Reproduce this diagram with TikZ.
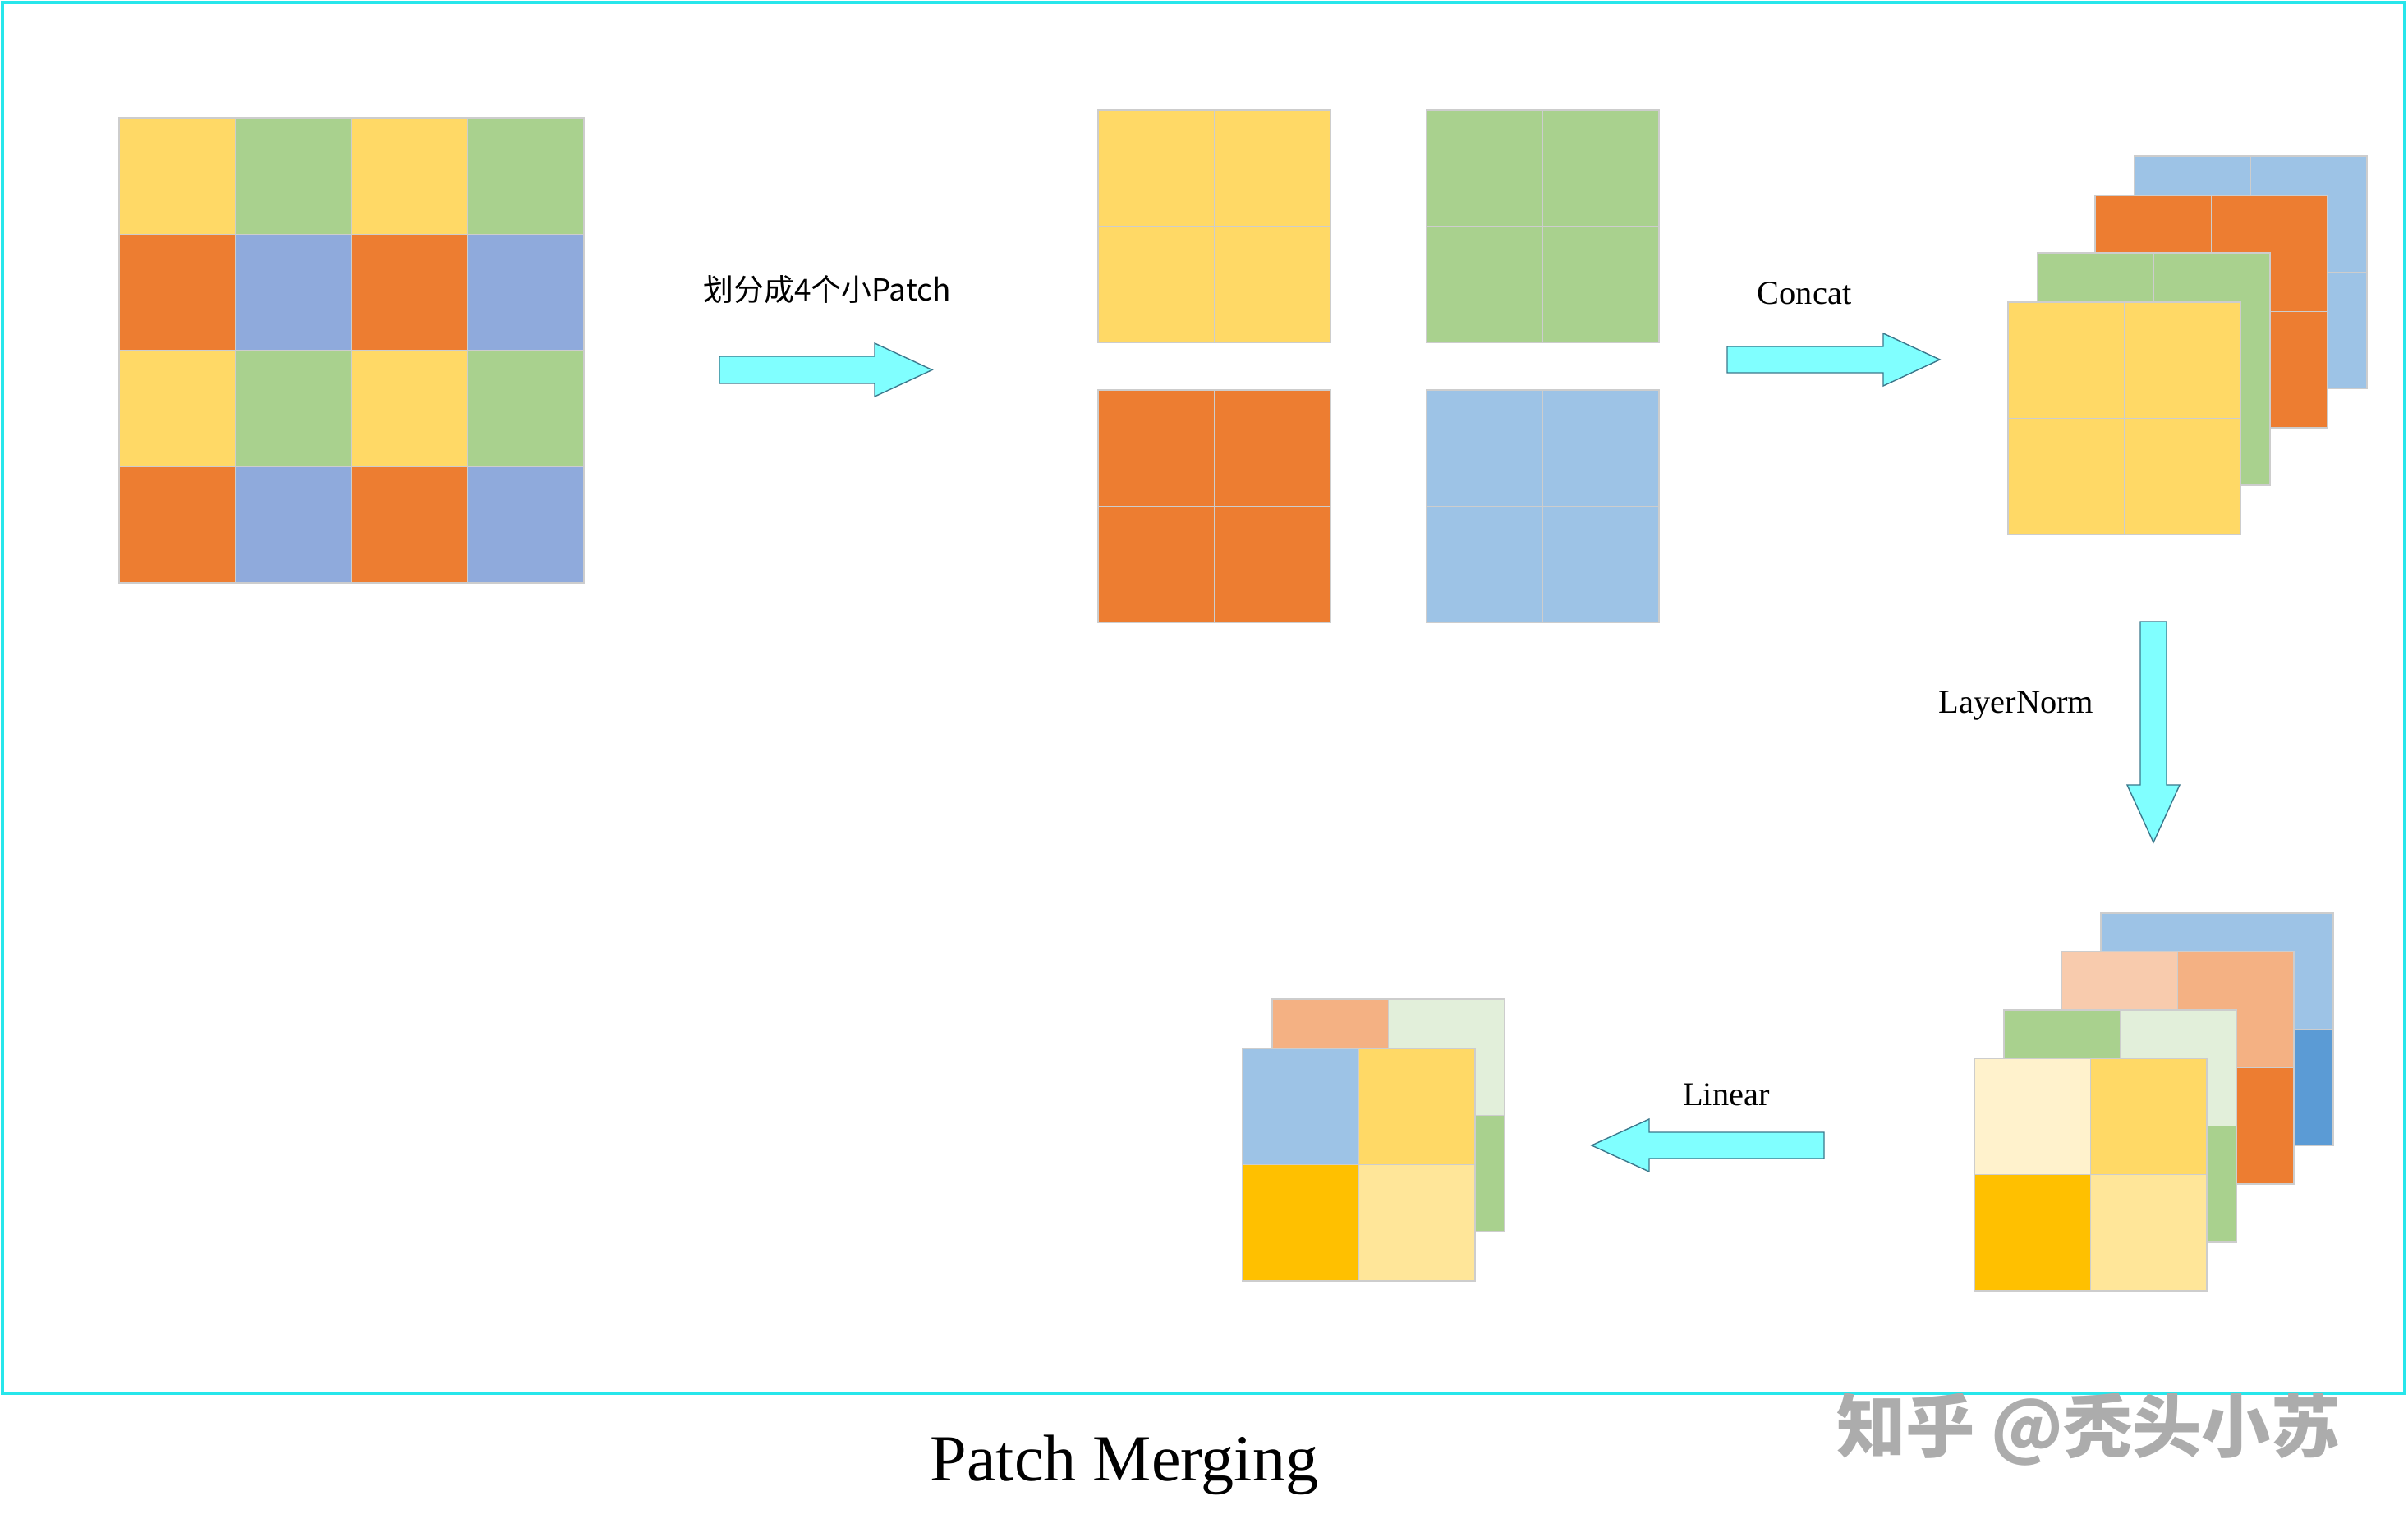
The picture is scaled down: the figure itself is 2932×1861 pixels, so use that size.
\documentclass[tikz,border=0pt]{standalone}
\usepackage{fontspec}
\setmainfont{Liberation Serif}
\newfontfamily\cjkfont{Noto Sans CJK SC}

\definecolor{cyel}{HTML}{FFD966}
\definecolor{cgrn}{HTML}{A9D18E}
\definecolor{corg}{HTML}{ED7D31}
\definecolor{cblu}{HTML}{8FAADC}
\definecolor{clblu}{HTML}{9DC3E6}
\definecolor{cdblu}{HTML}{5B9BD5}
\definecolor{cpeach}{HTML}{F8CBAD}
\definecolor{csalmon}{HTML}{F4B183}
\definecolor{cpale}{HTML}{E2EFDA}
\definecolor{ccream}{HTML}{FFF2CC}
\definecolor{cgold}{HTML}{FFC000}
\definecolor{clight}{HTML}{FFE699}
\definecolor{cellline}{RGB}{205,205,205}
\definecolor{arrowcyan}{HTML}{80FFFF}
\definecolor{arrowline}{RGB}{60,120,140}
\definecolor{framecyan}{RGB}{40,230,235}
\definecolor{markgrey}{RGB}{172,172,172}

\tikzset{
  cell/.style={draw=cellline, line width=0.3pt},
  blockarrow/.style={fill=arrowcyan, draw=arrowline, line width=0.4pt},
  label/.style={font=\fontsize{11.5}{14}\selectfont, anchor=base, inner sep=0pt},
}

% 2x2 patch: top-left corner, then colours TL, TR, BL, BR
\newcommand{\twobytwo}[6]{%
  \draw[cell, fill=#3] (#1,#2) rectangle ++(141.5,141.5);
  \draw[cell, fill=#4] (#1+141.5,#2) rectangle ++(141.5,141.5);
  \draw[cell, fill=#5] (#1,#2+141.5) rectangle ++(141.5,141.5);
  \draw[cell, fill=#6] (#1+141.5,#2+141.5) rectangle ++(141.5,141.5);
}

\begin{document}
\begin{tikzpicture}[x=0.1mm, y=-0.1mm]
   \useasboundingbox (0,0) rectangle (2932,1861);
   \draw[framecyan, line width=1.1pt] (3,3) rectangle (2928,1697);
   % input feature map
   \foreach \r/\ca/\cb in {0/cyel/cgrn, 1/corg/cblu, 2/cyel/cgrn, 3/corg/cblu}
     \foreach \c in {0,2} {
       \draw[cell, fill=\ca] ({145+\c*141.5},{144+\r*141.5}) rectangle ++(141.5,141.5);
       \draw[cell, fill=\cb] ({145+(\c+1)*141.5},{144+\r*141.5}) rectangle ++(141.5,141.5);
     }
   \draw[blockarrow] (876,434) -- (1065,434) -- (1065,418) -- (1135,450.5) -- (1065,483) -- (1065,467) -- (876,467) -- cycle;
   \node (split) [label, font=\cjkfont\fontsize{10.5}{13}\selectfont] at (1007,367) {划分成4个小Patch};
   % four patches
   \twobytwo{1337}{134}{cyel}{cyel}{cyel}{cyel}
   \twobytwo{1737}{134}{cgrn}{cgrn}{cgrn}{cgrn}
   \twobytwo{1337}{475}{corg}{corg}{corg}{corg}
   \twobytwo{1737}{475}{clblu}{clblu}{clblu}{clblu}
   \draw[blockarrow] (2103,422) -- (2293,422) -- (2293,406) -- (2362,438) -- (2293,470) -- (2293,454) -- (2103,454) -- cycle;
   \node (concat) [label] at (2197,371) {Concat};
   % concatenated stack
   \twobytwo{2599}{190}{clblu}{clblu}{clblu}{clblu}
   \twobytwo{2551}{238}{corg}{corg}{corg}{corg}
   \twobytwo{2481}{308}{cgrn}{cgrn}{cgrn}{cgrn}
   \twobytwo{2445}{368}{cyel}{cyel}{cyel}{cyel}
   \draw[blockarrow] (2606,757) -- (2606,956) -- (2590,956) -- (2622,1026) -- (2654,956) -- (2638,956) -- (2638,757) -- cycle;
   \node (lnorm) [label] at (2455,869) {LayerNorm};
   % normalised stack
   \twobytwo{2558}{1112}{clblu}{clblu}{cdblu}{cdblu}
   \twobytwo{2510}{1159}{cpeach}{csalmon}{corg}{corg}
   \twobytwo{2440}{1230}{cgrn}{cpale}{cgrn}{cgrn}
   \twobytwo{2404}{1289}{ccream}{cyel}{cgold}{clight}
   \draw[blockarrow] (2221,1379) -- (2008,1379) -- (2008,1363) -- (1938,1395) -- (2008,1427) -- (2008,1411) -- (2221,1411) -- cycle;
   \node (linear) [label] at (2102,1346) {Linear};
   % merged output
   \twobytwo{1549}{1217}{csalmon}{cpale}{cgrn}{cgrn}
   \twobytwo{1513}{1277}{clblu}{cyel}{cgold}{clight}
   \node (title) [label, font=\fontsize{22.8}{27}\selectfont] at (1369,1803) {Patch Merging};
   \node (mark) [inner sep=0pt, text=markgrey, font=\cjkfont\bfseries\fontsize{24}{28}\selectfont] at (2543,1741) {知乎 @秃头小苏};
\end{tikzpicture}
\end{document}
